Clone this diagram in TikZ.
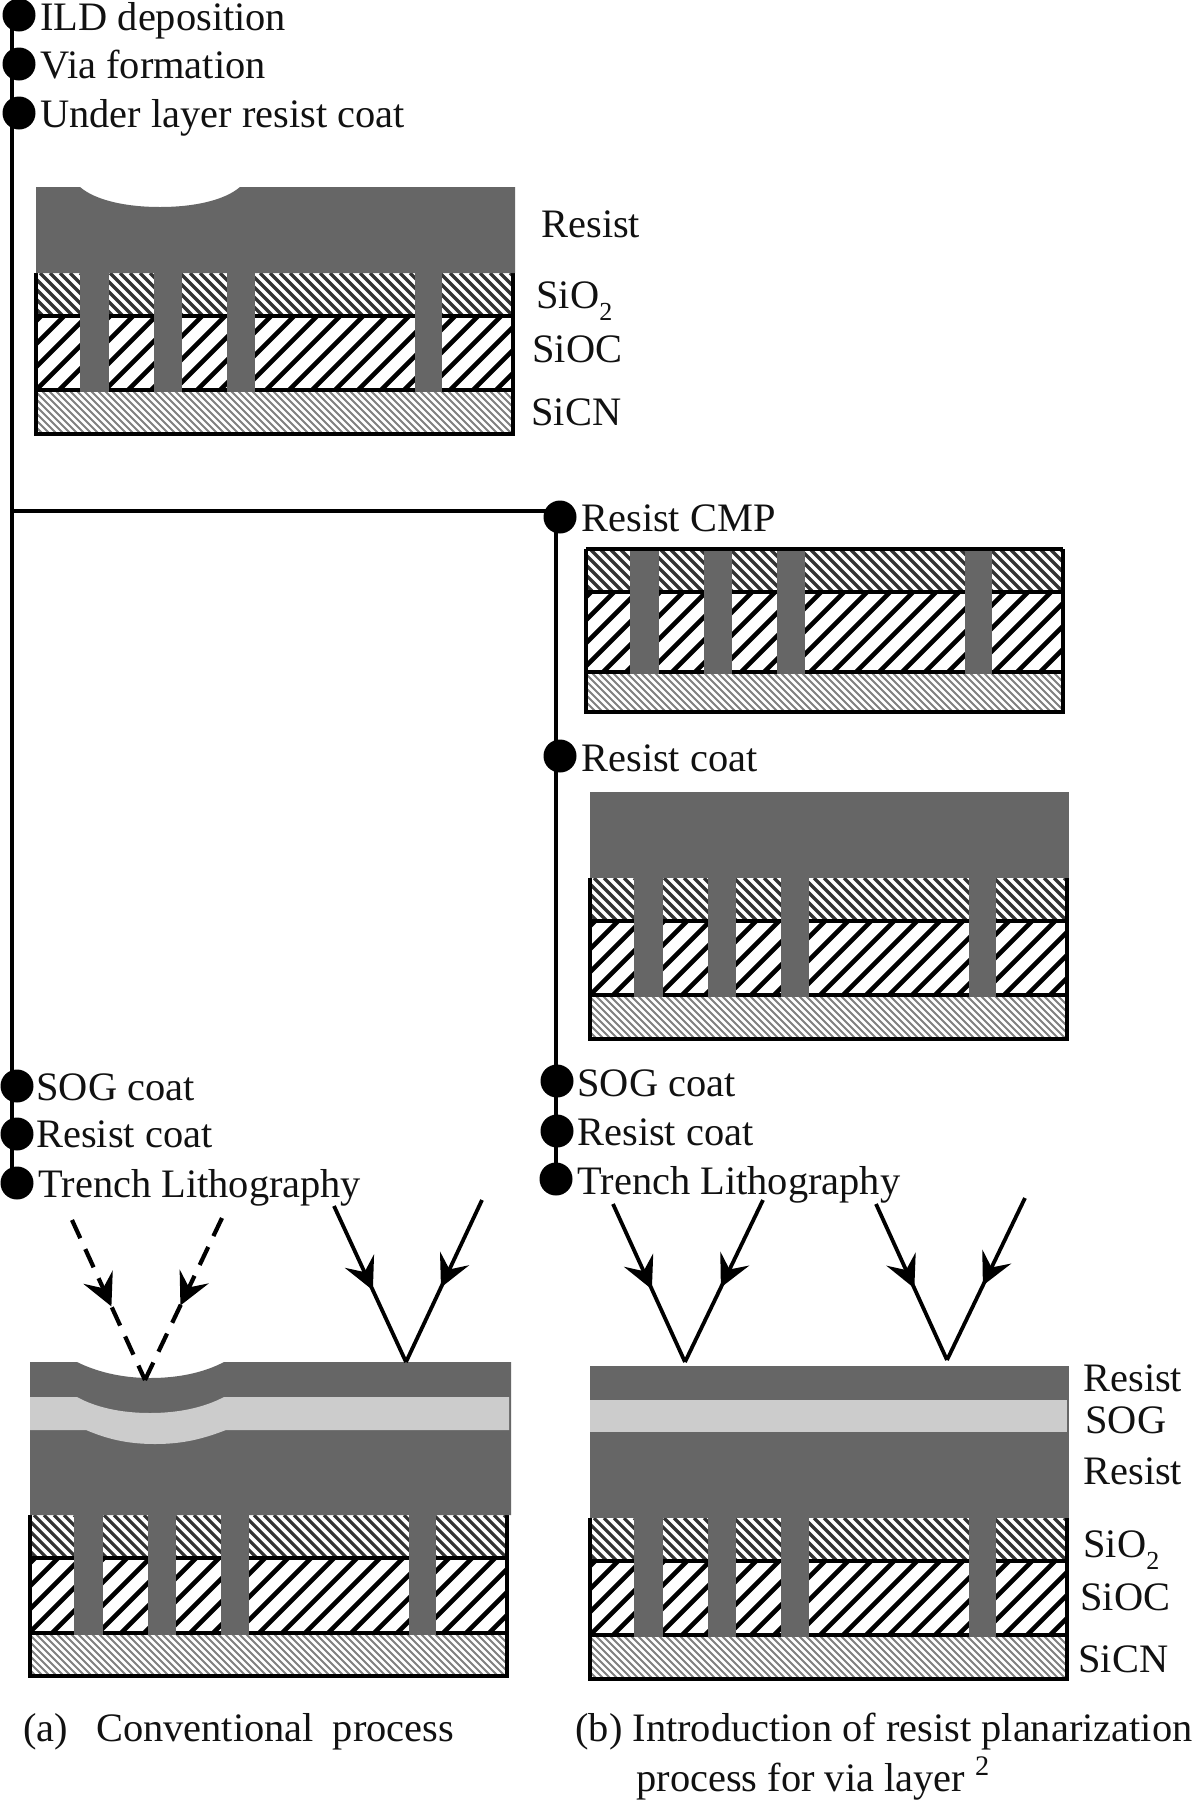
\documentclass[tikz,border=0pt]{standalone}
\usepackage{fontspec}
\setmainfont{Liberation Serif}
\usetikzlibrary{arrows.meta,decorations.markings}
\definecolor{resistgray}{HTML}{666666}
\definecolor{soggray}{HTML}{CCCCCC}
\definecolor{inkblack}{HTML}{111111}
\newcommand{\subtwo}{\raisebox{-0.3em}{\fontsize{13}{13}\selectfont 2}}
\tikzset{
  bullet/.style={circle,fill=black,draw=none,minimum size=16.5pt,inner sep=0pt},
  lbl/.style={anchor=base west,inner sep=0pt,text=inkblack,font=\fontsize{20.2}{24}\selectfont},
  trunk/.style={draw=black,line width=2pt},
  outline/.style={draw=black,line width=1.6pt},
  resistfill/.style={fill=resistgray,draw=none},
  sogfill/.style={fill=soggray,draw=none},
  ray/.style={draw=black,line width=1.9pt,postaction={decorate},
    decoration={markings,mark=at position 0.54 with {\pgfsetdash{}{0pt}\arrow{Stealth[length=16pt,width=16pt,inset=6pt]}}}},
  dashray/.style={ray,line width=2.1pt,dash pattern=on 10pt off 6pt}
}
% hatched band: y1 y2 spacing direction(+1 = down-right, -1 = up-right) width colour
\newcommand{\hatchband}[6]{%
  \begin{scope}
    \clip (36,#1) rectangle (513,#2);
    \foreach \i in {0,...,120}{
      \draw[line width=#5,draw=#6] ({-120+\i*#3},#1) -- ({-120+\i*#3+(#2-#1)*(#4)},#2);
    }
  \end{scope}}
% the via layer stack: x shift, y shift, SiOC bottom, SiCN bottom (as in the first stack's frame)
\newcommand{\viastack}[4]{%
  \begin{scope}[shift={(#1,#2)}]
    \fill[white] (36,273) rectangle (513,#4);
    \hatchband{273}{316}{10}{1}{1.6pt}{black!80}
    \hatchband{316}{#3}{23}{-1}{2.3pt}{black}
    \hatchband{#3}{#4}{7}{1}{1.0pt}{black!50}
    \draw[outline] (36,273) -- (36,#4) -- (513,#4) -- (513,273);
    \draw[outline] (36,316) -- (513,316);
    \draw[outline] (36,#3) -- (513,#3);
    \foreach \a/\b in {80/109,154/182,227/255,415/442}{
      \fill[resistgray] (\a,272) rectangle (\b,#3+1.5);
    }
  \end{scope}}
\begin{document}
\begin{tikzpicture}[x=0.5pt,y=-0.5pt]
\useasboundingbox (0,0) rectangle (1195,1800);
\fill[white] (0,0) rectangle (1195,1800);

% --- stack under the first column
\viastack{0}{0}{390}{434}
\fill[resistfill] (36,187) -- (80,187) .. controls (95,200) and (125,207) .. (160,207)
  .. controls (195,207) and (225,200) .. (240,187) -- (515,187) -- (515,273) -- (36,273) -- cycle;

% --- stack after resist CMP
\viastack{550}{276}{396}{436}
\draw[outline] (586,549) -- (1063,549);

% --- stack after resist coat
\viastack{554}{605}{390}{434}
\fill[resistfill] (590,792) rectangle (1069,878);

% --- conventional process stack
\viastack{-6}{1242}{391}{434}
\fill[resistfill] (30,1362) -- (77,1362) .. controls (95,1371) and (120,1378) .. (150,1378)
  .. controls (180,1378) and (205,1372) .. (224,1362) -- (511,1362) -- (511,1515) -- (30,1515) -- cycle;
\fill[sogfill] (30,1397) -- (77,1397) .. controls (95,1407) and (120,1413) .. (150,1413)
  .. controls (180,1413) and (205,1407) .. (224,1397) -- (509,1397) -- (509,1430) -- (226,1430)
  .. controls (205,1438) and (185,1444) .. (155,1444) .. controls (125,1444) and (105,1438) .. (86,1430)
  -- (30,1430) -- cycle;

% --- planarized process stack
\viastack{554}{1245}{390}{434}
\fill[resistfill] (590,1366) rectangle (1069,1518);
\fill[sogfill] (590,1400) rectangle (1067,1432);

% --- process-flow dots
\coordinate (trunkL) at (12,0);
\coordinate (trunkR) at (556,0);
\node[bullet] (d1) at (19,15) {};
\node[bullet] (d2) at (19,64) {};
\node[bullet] (d3) at (19,113) {};
\node[bullet] (d4) at (17,1086) {};
\node[bullet] (d5) at (17,1134) {};
\node[bullet] (d6) at (17,1183) {};
\coordinate (branch) at (12,511);
\node[bullet] (e1) at (560,517) {};
\node[bullet] (e2) at (560,756) {};
\node[bullet] (e3) at (557,1081) {};
\node[bullet] (e4) at (557,1131) {};
\node[bullet] (e5) at (556,1179) {};

\draw[trunk] (d1 -| trunkL) -- (d6 -| trunkL);
\draw[trunk] (branch) -- (branch -| e1);
\draw[trunk] (e1 -| trunkR) -- (e5 -| trunkR);

% --- step labels
\node[lbl] (t1) at (40,30) {ILD deposition};
\node[lbl] (t2) at (40,78) {Via formation};
\node[lbl] (t3) at (40,127) {Under layer resist coat};
\node[lbl] (t4) at (36,1100) {SOG coat};
\node[lbl] (t5) at (36,1147) {Resist coat};
\node[lbl] (t6) at (38,1197) {Trench Lithography};
\node[lbl] (u1) at (581,531) {Resist CMP};
\node[lbl] (u2) at (581,771) {Resist coat};
\node[lbl] (u3) at (577,1096) {SOG coat};
\node[lbl] (u4) at (577,1145) {Resist coat};
\node[lbl] (u5) at (577,1194) {Trench Lithography};

% --- layer labels, first stack
\node[lbl] (la) at (541,237) {Resist};
\node[lbl] (lb) at (536,308) {SiO\subtwo};
\node[lbl] (lc) at (532,362) {SiOC};
\node[lbl] (ld) at (531,425) {SiCN};
% --- layer labels, last stack
\node[lbl] (ma) at (1083,1391) {Resist};
\node[lbl] (mb) at (1085,1433) {SOG};
\node[lbl] (mc) at (1083,1484) {Resist};
\node[lbl] (md) at (1083,1557) {SiO\subtwo};
\node[lbl] (me) at (1080,1610) {SiOC};
\node[lbl] (mf) at (1078,1672) {SiCN};

% --- exposure rays
\coordinate (ap1) at (145,1380);
\coordinate (r1a) at (72,1220);
\coordinate (r1b) at (222,1218);
\coordinate (ap2) at (406,1362);
\coordinate (r2a) at (334,1206);
\coordinate (r2b) at (482,1200);
\coordinate (ap3) at (685,1362);
\coordinate (r3a) at (613,1204);
\coordinate (r3b) at (763,1200);
\coordinate (ap4) at (947,1360);
\coordinate (r4a) at (876,1204);
\coordinate (r4b) at (1025,1198);
\draw[dashray] (r1a) -- (ap1);
\draw[dashray] (r1b) -- (ap1);
\draw[ray] (r2a) -- (ap2);
\draw[ray] (r2b) -- (ap2);
\draw[ray] (r3a) -- (ap3);
\draw[ray] (r3b) -- (ap3);
\draw[ray] (r4a) -- (ap4);
\draw[ray] (r4b) -- (ap4);

% --- captions
\node[lbl] (capa) at (23,1741) {(a)\hspace{14pt}Conventional\hspace{9.5pt}process};
\node[lbl] (capb) at (575,1741) {(b) Introduction of resist planarization};
\node[lbl] (capc) at (636,1791) {process for via layer \textsuperscript{2}};
\end{tikzpicture}
\end{document}
